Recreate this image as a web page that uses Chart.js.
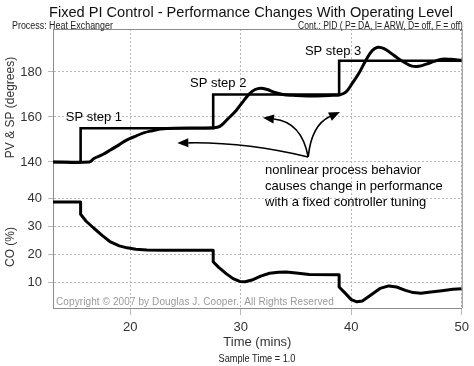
<!DOCTYPE html>
<html>
<head>
<meta charset="utf-8">
<script src="https://cdn.jsdelivr.net/npm/chart.js@4.4.0/dist/chart.umd.min.js"></script>
<style>
  html, body { margin: 0; padding: 0; background: #fff; }
  #wrap { position: relative; width: 474px; height: 366px; font-family: "Liberation Sans", Arial, sans-serif; }
  #chart { position: absolute; left: 0; top: 0; }
  .txt { position: absolute; white-space: nowrap; color: #111; }
  #title { left: 49px; top: 4px; font-size: 14.6px; }
  .small { font-size: 10px; color: #222; }
  #process { left: 12px; top: 20px; transform: scaleX(0.89); transform-origin: left center; }
  #cont { right: 11px; top: 20px; transform: scaleX(0.855); transform-origin: right center; }
  #sample { left: 0; width: 514px; text-align: center; top: 353px; transform: scaleX(0.92); transform-origin: 257px center; }
  #note { left: 265px; top: 162px; font-size: 13px; line-height: 16px; color: #000; }
  #copy { left: 56px; top: 296px; font-size: 10px; letter-spacing: 0.1px; color: #9a9a9a; }
</style>
</head>
<body>
<div id="wrap">
  <canvas id="chart" width="474" height="366"></canvas>
  <div class="txt" id="title">Fixed PI Control - Performance Changes With Operating Level</div>
  <div class="txt small" id="process">Process: Heat Exchanger</div>
  <div class="txt small" id="cont">Cont.: PID ( P= DA, I= ARW, D= off, F = off)</div>
  <div class="txt small" id="sample">Sample Time = 1.0</div>
  <div class="txt" id="note">nonlinear process behavior<br>causes change in performance<br>with a fixed controller tuning</div>
  <div class="txt" id="copy">Copyright &copy; 2007 by Douglas J. Cooper.&nbsp; All Rights Reserved</div>
</div>
<script>
// set point (degrees)
const SP_TIME = [13, 15.5, 15.5, 27.5, 27.5, 38.9, 38.9, 50];
const SP_VALUE = [140, 140, 155, 155, 170, 170, 185, 185];

// measured process variable (degrees)
const PV_TIME = [13, 16.3, 16.7, 17.5, 18.2, 19, 19.7, 20.5, 21.2, 22, 22.7, 24, 27.5,
  28.1, 28.8, 29.6, 30.3, 30.8, 31.3, 31.8, 32.4, 33, 33.8, 34.7, 36, 38.3, 39,
  39.5, 40.1, 40.7, 41.3, 41.9, 42.4, 43, 43.6, 44.3, 44.9, 45.5, 46.1, 46.8, 47.5, 48.2, 49, 50];
const PV_VALUE = [140, 140, 141.5, 143.3, 145.3, 147.7, 149.8, 151.5, 152.9, 153.9, 154.6, 155, 155.2,
  155.8, 159, 163, 167.5, 170.4, 172.2, 172.8, 172.2, 171, 170, 169.6, 169.3, 169.6, 169.9,
  171, 175, 179.5, 185, 189.5, 191, 190.3, 188.3, 185.8, 184, 182.6, 182.5, 183.5, 184.7, 185.7, 185.6, 185.2];

// controller output (%)
const CO_TIME = [13, 15.5, 15.5, 16, 16.7, 17.5, 18.2, 19, 19.7, 20.5, 21.5, 23, 27.5,
  27.5, 28, 28.7, 29.3, 29.9, 30.4, 31, 31.8, 32.6, 33.4, 34.1, 35, 36.2, 38.9,
  38.9, 39.4, 40, 40.5, 41, 41.9, 42.6, 43.4, 44.1, 44.9, 45.6, 46.3, 47.2, 48.2, 49.2, 50];
const CO_VALUE = [38.9, 38.9, 34.5, 32, 29.5, 26.8, 24.6, 23.2, 22.5, 22, 21.7, 21.6, 21.6,
  17.5, 15.5, 13.2, 11.5, 10.5, 10.4, 11, 12.4, 13.4, 13.8, 13.9, 13.5, 13, 12.9,
  8.5, 6.5, 4, 3.2, 3.5, 6, 8, 8.9, 8.5, 7.3, 6.5, 6.3, 6.7, 7.2, 7.7, 7.9];

const TIME_TICKS = [20, 30, 40, 50];
const PV_TICKS = [140, 160, 180];
const CO_TICKS = [10, 20, 30, 40];

// annotation anchors in (time, degrees)
const STEP_LABELS = [
  { text: "SP step 1", t: 14.15, v: 160 },
  { text: "SP step 2", t: 25.4, v: 175.1 },
  { text: "SP step 3", t: 35.8, v: 189.3 },
];
const ARROWS = [
  { from: [36.1, 142.2], ctrl: [30.4, 148.9], to: [24.25, 148.4] },
  { from: [36.1, 142.2], ctrl: [35.5, 157.8], to: [32.0, 159.6] },
  { from: [36.1, 142.2], ctrl: [36.4, 156.4], to: [38.97, 162.2] },
];

const FONT = "'Liberation Sans', Arial, sans-serif";
const zip = (xs, ys) => xs.map((x, i) => ({ x: x, y: ys[i] }));

const overlay = {
  id: "overlay",
  afterDatasetsDraw(chart) {
    const { ctx, chartArea: a, scales } = chart;
    const sx = scales.x;
    const sy = scales.pv;
    const px = (p) => [sx.getPixelForValue(p[0]), sy.getPixelForValue(p[1])];
    ctx.save();
    // top and right frame
    ctx.strokeStyle = "#8c8c8c";
    ctx.lineWidth = 1;
    ctx.beginPath();
    ctx.moveTo(a.left, a.top + 0.5);
    ctx.lineTo(a.right + 0.5, a.top + 0.5);
    ctx.lineTo(a.right + 0.5, a.bottom);
    ctx.stroke();

    ctx.fillStyle = "#000";
    ctx.font = "13px " + FONT;
    ctx.textBaseline = "middle";
    STEP_LABELS.forEach((l) => {
      ctx.fillText(l.text, sx.getPixelForValue(l.t), sy.getPixelForValue(l.v));
    });

    ctx.strokeStyle = "#000";
    ctx.lineWidth = 1.6;
    ARROWS.forEach((ar) => {
      const [x0, y0] = px(ar.from);
      const [cx, cy] = px(ar.ctrl);
      const [x1, y1] = px(ar.to);
      const ang = Math.atan2(y1 - cy, x1 - cx);
      const len = 11, half = 4.5;
      const bx = x1 - len * Math.cos(ang), by = y1 - len * Math.sin(ang);
      ctx.beginPath();
      ctx.moveTo(x0, y0);
      ctx.quadraticCurveTo(cx, cy, bx, by);
      ctx.stroke();
      ctx.beginPath();
      ctx.moveTo(x1, y1);
      ctx.lineTo(bx + half * Math.sin(ang), by - half * Math.cos(ang));
      ctx.lineTo(bx - half * Math.sin(ang), by + half * Math.cos(ang));
      ctx.closePath();
      ctx.fill();
    });
    ctx.restore();
  },
};

const gridStyle = { color: "#b9b9b9", lineWidth: 1, tickLength: 5 };
const borderStyle = { color: "#8c8c8c", dash: [2, 2] };
const tickFont = { size: 13, family: FONT };

new Chart(document.getElementById("chart"), {
  type: "line",
  data: {
    datasets: [
      {
        label: "SP",
        data: zip(SP_TIME, SP_VALUE),
        yAxisID: "pv",
        borderColor: "#000",
        borderWidth: 2.6,
        pointRadius: 0,
        tension: 0,
      },
      {
        label: "PV",
        data: zip(PV_TIME, PV_VALUE),
        yAxisID: "pv",
        borderColor: "#000",
        borderWidth: 3,
        pointRadius: 0,
        tension: 0.4,
      },
      {
        label: "CO",
        data: zip(CO_TIME, CO_VALUE),
        yAxisID: "co",
        borderColor: "#000",
        borderWidth: 3,
        pointRadius: 0,
        tension: 0,
        borderJoinStyle: "round",
      },
    ],
  },
  options: {
    responsive: false,
    animation: false,
    layout: { padding: { top: 29, right: 12, left: 0, bottom: 0 } },
    plugins: { legend: { display: false }, tooltip: { enabled: false } },
    scales: {
      x: {
        type: "linear",
        min: 13,
        max: 50,
        afterBuildTicks: (s) => { s.ticks = TIME_TICKS.map((v) => ({ value: v })); },
        afterFit: (s) => { s.height = 58; },
        grid: { ...gridStyle, tickLength: 7 },
        border: borderStyle,
        ticks: { color: "#333", font: tickFont, padding: 5, maxRotation: 0 },
        title: { display: true, text: "Time (mins)", color: "#333", font: { size: 13, family: FONT }, padding: { top: 0, bottom: 16 } },
      },
      co: {
        type: "linear",
        position: "left",
        stack: "panels",
        stackWeight: 122,
        min: 1,
        max: 44.6,
        afterBuildTicks: (s) => { s.ticks = CO_TICKS.map((v) => ({ value: v })); },
        afterFit: (s) => { s.width = 53; },
        grid: gridStyle,
        border: borderStyle,
        ticks: { color: "#333", font: tickFont, padding: 6 },
        title: { display: true, text: "CO (%)", color: "#333", font: { size: 12, family: FONT }, padding: { top: 3, bottom: 0 } },
      },
      pv: {
        type: "linear",
        position: "left",
        stack: "panels",
        stackWeight: 157,
        min: 129.3,
        max: 199.1,
        afterBuildTicks: (s) => { s.ticks = PV_TICKS.map((v) => ({ value: v })); },
        afterFit: (s) => { s.width = 53; },
        grid: gridStyle,
        border: borderStyle,
        ticks: { color: "#333", font: tickFont, padding: 6 },
        title: { display: true, text: "PV & SP (degrees)", color: "#333", font: { size: 12, family: FONT }, padding: { top: 3, bottom: 0 } },
      },
    },
  },
  plugins: [overlay],
});
</script>
</body>
</html>
